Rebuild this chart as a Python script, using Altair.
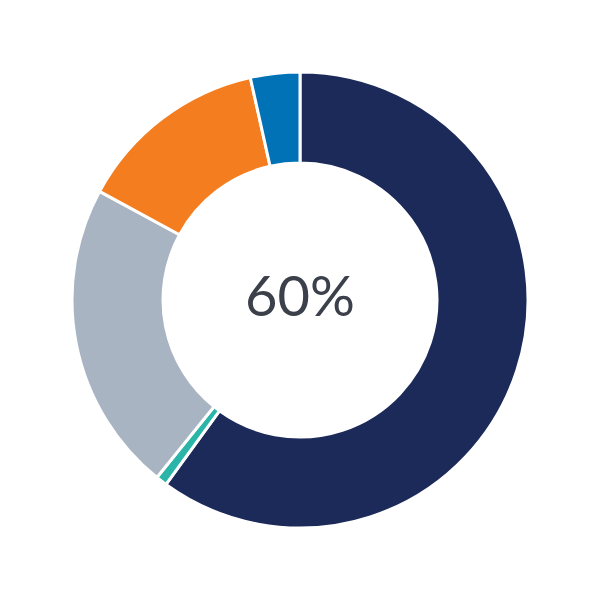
import altair as alt
import pandas as pd

categories = ["A", "B", "C", "D", "E"]
values = [60.0, 0.8, 22.1, 13.6, 3.5]
colors = ["#1c2a5a", "#2bb5a8", "#a9b4c3", "#f47d20", "#0172b6"]
center_label = "60%"

df = pd.DataFrame({"cat": categories, "val": values, "order": list(range(len(values)))})

arcs = alt.Chart(df).mark_arc(innerRadius=137, outerRadius=228, stroke="white", strokeWidth=3).encode(
    theta=alt.Theta("val:Q", stack=True),
    color=alt.Color("cat:N", scale=alt.Scale(domain=categories, range=colors), legend=None),
    order=alt.Order("order:Q"),
)

text = alt.Chart(pd.DataFrame({"t": [center_label]})).mark_text(
    font="Lato", fontSize=56, fontWeight="normal", color="#3b404a", baseline="middle", align="center"
).encode(text="t:N", x=alt.value(292), y=alt.value(291))

chart = alt.layer(arcs, text).properties(width=584, height=584, padding=0).configure_view(stroke=None)
chart.save("out.html", embed_options={"renderer": "svg", "actions": False})
